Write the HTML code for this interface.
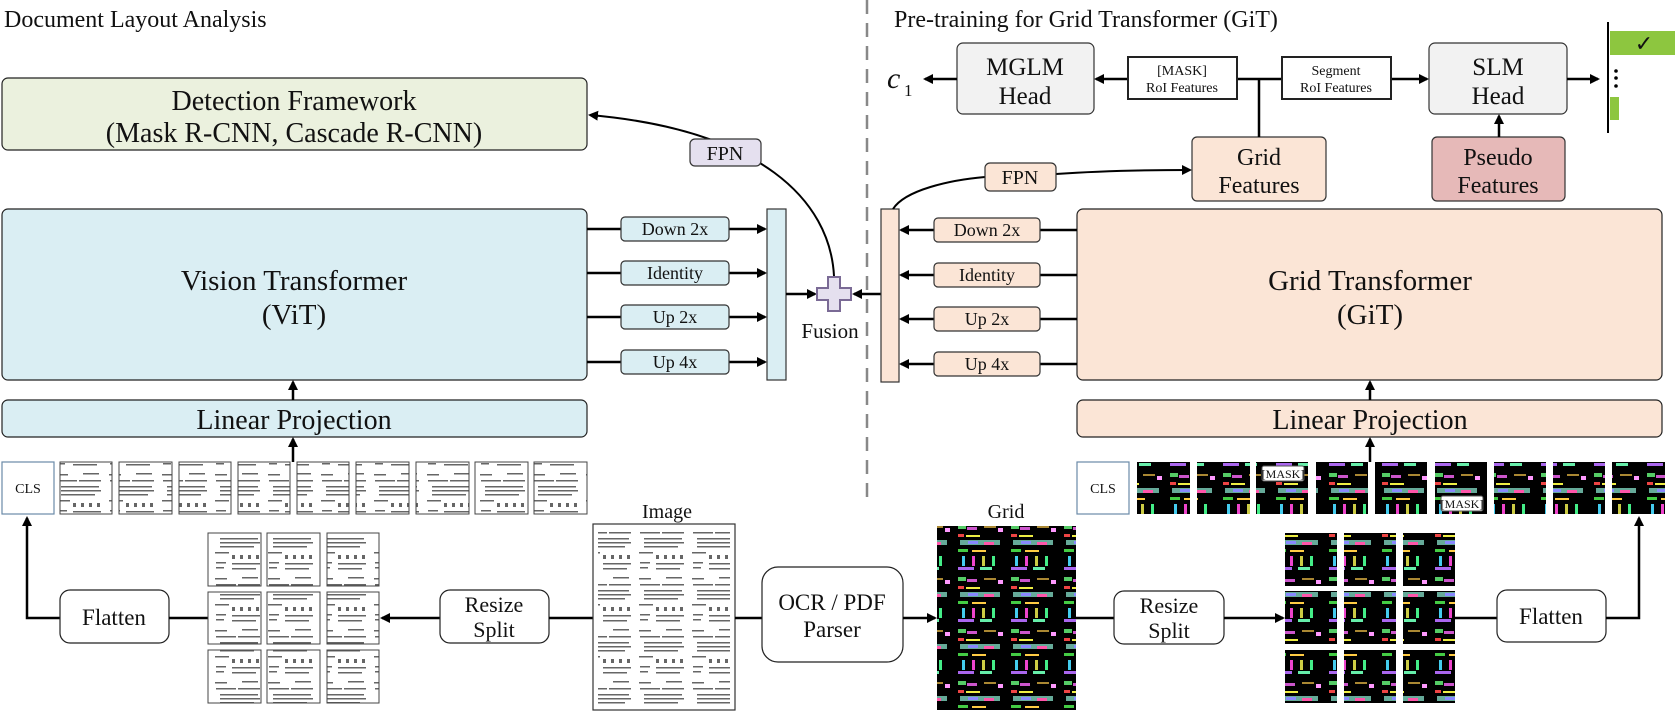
<!DOCTYPE html>
<html><head><meta charset="utf-8"><style>
html,body{margin:0;padding:0;background:#fff;}
svg{display:block;}
text{font-family:"Liberation Serif",serif;fill:#111;}
</style></head><body>
<svg width="1680" height="714" viewBox="0 0 1680 714" xmlns="http://www.w3.org/2000/svg">
<defs>
<marker id="ah" markerWidth="10" markerHeight="10" refX="8" refY="5" orient="auto" markerUnits="userSpaceOnUse">
<path d="M0,0 L10,5 L0,10 z" fill="#000"/></marker>
<pattern id="doc" width="53" height="52" patternUnits="userSpaceOnUse">
<rect width="53" height="52" fill="#fff"/>
<g fill="#666">
<rect x="3" y="6" width="12" height="1.5"/><rect x="30" y="5" width="16" height="1.5"/>
<rect x="4" y="12" width="20" height="1.5"/><rect x="26" y="12" width="22" height="1.5"/>
<rect x="8" y="18" width="38" height="1.5"/><rect x="8" y="22" width="40" height="1.5"/>
<rect x="8" y="26" width="34" height="1.5"/><rect x="3" y="32" width="14" height="1.5"/>
<rect x="20" y="35" width="3" height="4"/><rect x="28" y="35" width="3" height="4"/><rect x="36" y="35" width="3" height="4"/><rect x="44" y="35" width="3" height="4"/>
<rect x="4" y="42" width="10" height="1.5"/><rect x="20" y="43" width="28" height="1.5"/>
<rect x="4" y="47" width="8" height="1.5"/><rect x="20" y="48" width="24" height="1.5"/>
</g></pattern>
<pattern id="grd" width="53" height="52" patternUnits="userSpaceOnUse">
<rect width="53" height="52" fill="#000"/>
<rect x="4" y="5" width="8" height="4" fill="#5c6"/><rect x="13" y="7" width="10" height="3" fill="#c5c"/>
<rect x="30" y="6" width="12" height="2" fill="#a83"/><rect x="44" y="8" width="5" height="4" fill="#f9f"/>
<rect x="4" y="14" width="6" height="3" fill="#e44"/><rect x="12" y="15" width="14" height="2" fill="#ee4"/>
<rect x="6" y="20" width="40" height="5" fill="#6a9"/><rect x="14" y="21" width="10" height="3" fill="#88f"/>
<rect x="30" y="22" width="10" height="3" fill="#f5a"/>
<rect x="4" y="29" width="10" height="3" fill="#4c4"/><rect x="18" y="30" width="14" height="2" fill="#fc4"/>
<rect x="8" y="36" width="3" height="10" fill="#4ce"/><rect x="18" y="36" width="3" height="10" fill="#e4c"/><rect x="28" y="36" width="3" height="10" fill="#cc4"/><rect x="38" y="36" width="3" height="10" fill="#4e8"/>
<rect x="4" y="47" width="16" height="3" fill="#a6e"/><rect x="26" y="47" width="12" height="3" fill="#6ea"/>
</pattern>
</defs>

<line x1="867" y1="0" x2="867" y2="502" stroke="#888" stroke-width="2.5" stroke-dasharray="14,9"/>

<text x="4" y="27" font-size="24">Document Layout Analysis</text>
<text x="894" y="27" font-size="24">Pre-training for Grid Transformer (GiT)</text>

<rect x="2" y="78" width="585" height="72" rx="6" fill="#ebf1de" stroke="#222" stroke-width="1.2"/>
<text x="294" y="110" font-size="28" text-anchor="middle">Detection Framework</text>
<text x="294" y="142" font-size="28" text-anchor="middle">(Mask R-CNN, Cascade R-CNN)</text>

<path d="M834,276 C830,200 760,130 590,115" fill="none" stroke="#000" stroke-width="2" marker-end="url(#ah)"/>
<rect x="690" y="139" width="71" height="27" rx="5" fill="#e5e0ef" stroke="#333" stroke-width="1.2"/>
<text x="725" y="160" font-size="20" text-anchor="middle">FPN</text>

<rect x="2" y="209" width="585" height="171" rx="6" fill="#daeef3" stroke="#222" stroke-width="1.2"/>
<text x="294" y="290" font-size="29" text-anchor="middle">Vision Transformer</text>
<text x="294" y="324" font-size="29" text-anchor="middle">(ViT)</text>

<g stroke="#000" stroke-width="2.5" fill="none">
<line x1="587" y1="229" x2="621" y2="229"/><line x1="729" y1="229" x2="765" y2="229" marker-end="url(#ah)"/>
<line x1="587" y1="273" x2="621" y2="273"/><line x1="729" y1="273" x2="765" y2="273" marker-end="url(#ah)"/>
<line x1="587" y1="317" x2="621" y2="317"/><line x1="729" y1="317" x2="765" y2="317" marker-end="url(#ah)"/>
<line x1="587" y1="362" x2="621" y2="362"/><line x1="729" y1="362" x2="765" y2="362" marker-end="url(#ah)"/>
</g>
<g fill="#daeef3" stroke="#333" stroke-width="1.2">
<rect x="621" y="217" width="108" height="24" rx="4"/>
<rect x="621" y="261" width="108" height="24" rx="4"/>
<rect x="621" y="305" width="108" height="24" rx="4"/>
<rect x="621" y="350" width="108" height="24" rx="4"/>
</g>
<g font-size="18" text-anchor="middle">
<text x="675" y="235">Down 2x</text><text x="675" y="279">Identity</text>
<text x="675" y="323">Up 2x</text><text x="675" y="368">Up 4x</text>
</g>
<rect x="767" y="209" width="19" height="171" fill="#daeef3" stroke="#333" stroke-width="1.2"/>

<line x1="786" y1="294" x2="815" y2="294" stroke="#000" stroke-width="2.5" marker-end="url(#ah)"/>
<line x1="881" y1="294" x2="854" y2="294" stroke="#000" stroke-width="2.5" marker-end="url(#ah)"/>
<path d="M828,277 h12 v11 h11 v12 h-11 v11 h-12 v-11 h-11 v-12 h11 z" fill="#e5e0ef" stroke="#7a6a95" stroke-width="2"/>
<text x="830" y="338" font-size="21" text-anchor="middle">Fusion</text>

<rect x="2" y="400" width="585" height="37" rx="6" fill="#daeef3" stroke="#222" stroke-width="1.2"/>
<text x="294" y="429" font-size="28" text-anchor="middle">Linear Projection</text>
<line x1="293" y1="400" x2="293" y2="382" stroke="#000" stroke-width="2.5" marker-end="url(#ah)"/>
<line x1="293" y1="462" x2="293" y2="439" stroke="#000" stroke-width="2.5" marker-end="url(#ah)"/>

<rect x="2" y="462" width="52" height="52" fill="#fff" stroke="#6a8aa8" stroke-width="1.2"/>
<text x="28" y="493" font-size="14" text-anchor="middle">CLS</text>
<g fill="url(#doc)" stroke="#444" stroke-width="1">
<rect x="60" y="462" width="52" height="52"/><rect x="119" y="462" width="53" height="52"/>
<rect x="179" y="462" width="52" height="52"/><rect x="238" y="462" width="52" height="52"/>
<rect x="297" y="462" width="52" height="52"/><rect x="356" y="462" width="53" height="52"/>
<rect x="416" y="462" width="53" height="52"/><rect x="475" y="462" width="53" height="52"/>
<rect x="534" y="462" width="53" height="52"/>
</g>

<path d="M60,618 H27 V518" fill="none" stroke="#000" stroke-width="2.5" marker-end="url(#ah)"/>
<rect x="60" y="590" width="109" height="53" rx="10" fill="#fff" stroke="#222" stroke-width="1.2"/>
<text x="114" y="625" font-size="23" text-anchor="middle">Flatten</text>
<line x1="169" y1="618" x2="208" y2="618" stroke="#000" stroke-width="2.5"/>
<g fill="url(#doc)" stroke="#444" stroke-width="1">
<rect x="208" y="533" width="53" height="53"/><rect x="267" y="533" width="53" height="53"/><rect x="327" y="533" width="52" height="53"/>
<rect x="208" y="592" width="53" height="52"/><rect x="267" y="592" width="53" height="52"/><rect x="327" y="592" width="52" height="52"/>
<rect x="208" y="650" width="53" height="53"/><rect x="267" y="650" width="53" height="53"/><rect x="327" y="650" width="52" height="53"/>
</g>
<line x1="440" y1="618" x2="382" y2="618" stroke="#000" stroke-width="2.5" marker-end="url(#ah)"/>
<rect x="440" y="590" width="109" height="53" rx="10" fill="#fff" stroke="#222" stroke-width="1.2"/>
<text x="494" y="612" font-size="22" text-anchor="middle">Resize</text>
<text x="494" y="637" font-size="22" text-anchor="middle">Split</text>
<line x1="549" y1="618" x2="593" y2="618" stroke="#000" stroke-width="2.5"/>
<text x="667" y="518" font-size="20" text-anchor="middle">Image</text>
<rect x="593" y="524" width="142" height="186" fill="#fff" stroke="#333" stroke-width="1.2"/>
<rect x="598" y="530" width="132" height="175" fill="url(#doc)"/>
<line x1="735" y1="618" x2="762" y2="618" stroke="#000" stroke-width="2.5"/>
<rect x="762" y="567" width="141" height="95" rx="16" fill="#fff" stroke="#222" stroke-width="1.2"/>
<text x="832" y="610" font-size="23" text-anchor="middle">OCR / PDF</text>
<text x="832" y="637" font-size="23" text-anchor="middle">Parser</text>
<line x1="903" y1="618" x2="935" y2="618" stroke="#000" stroke-width="2.5" marker-end="url(#ah)"/>
<text x="1006" y="518" font-size="20" text-anchor="middle">Grid</text>
<rect x="937" y="526" width="139" height="184" fill="url(#grd)"/>
<line x1="1076" y1="618" x2="1114" y2="618" stroke="#000" stroke-width="2.5"/>
<rect x="1114" y="591" width="110" height="53" rx="10" fill="#fff" stroke="#222" stroke-width="1.2"/>
<text x="1169" y="613" font-size="22" text-anchor="middle">Resize</text>
<text x="1169" y="638" font-size="22" text-anchor="middle">Split</text>
<line x1="1224" y1="618" x2="1283" y2="618" stroke="#000" stroke-width="2.5" marker-end="url(#ah)"/>
<g fill="url(#grd)">
<rect x="1285" y="533" width="52" height="53"/><rect x="1344" y="533" width="52" height="53"/><rect x="1403" y="533" width="52" height="53"/>
<rect x="1285" y="591" width="52" height="53"/><rect x="1344" y="591" width="52" height="53"/><rect x="1403" y="591" width="52" height="53"/>
<rect x="1285" y="650" width="52" height="53"/><rect x="1344" y="650" width="52" height="53"/><rect x="1403" y="650" width="52" height="53"/>
</g>
<line x1="1455" y1="618" x2="1497" y2="618" stroke="#000" stroke-width="2.5"/>
<rect x="1497" y="590" width="109" height="52" rx="10" fill="#fff" stroke="#222" stroke-width="1.2"/>
<text x="1551" y="624" font-size="23" text-anchor="middle">Flatten</text>
<path d="M1606,618 H1639 V518" fill="none" stroke="#000" stroke-width="2.5" marker-end="url(#ah)"/>

<rect x="1077" y="462" width="52" height="52" fill="#fff" stroke="#6a8aa8" stroke-width="1.2"/>
<text x="1103" y="493" font-size="14" text-anchor="middle">CLS</text>
<g fill="url(#grd)">
<rect x="1137" y="462" width="53" height="52"/><rect x="1197" y="462" width="53" height="52"/>
<rect x="1256" y="462" width="52" height="52"/><rect x="1316" y="462" width="52" height="52"/>
<rect x="1375" y="462" width="52" height="52"/><rect x="1435" y="462" width="52" height="52"/>
<rect x="1494" y="462" width="52" height="52"/><rect x="1553" y="462" width="52" height="52"/>
<rect x="1612" y="462" width="53" height="52"/>
</g>
<rect x="1262" y="466" width="42" height="15" rx="2" fill="#fff" stroke="#555"/>
<text x="1283" y="478" font-size="12" text-anchor="middle">[MASK]</text>
<rect x="1441" y="496" width="42" height="15" rx="2" fill="#fff" stroke="#555"/>
<text x="1462" y="508" font-size="12" text-anchor="middle">[MASK]</text>

<rect x="1077" y="400" width="585" height="37" rx="6" fill="#fbe5d6" stroke="#222" stroke-width="1.2"/>
<text x="1370" y="429" font-size="28" text-anchor="middle">Linear Projection</text>
<line x1="1370" y1="462" x2="1370" y2="439" stroke="#000" stroke-width="2.5" marker-end="url(#ah)"/>
<line x1="1370" y1="400" x2="1370" y2="382" stroke="#000" stroke-width="2.5" marker-end="url(#ah)"/>

<rect x="1077" y="209" width="585" height="171" rx="6" fill="#fbe5d6" stroke="#222" stroke-width="1.2"/>
<text x="1370" y="290" font-size="29" text-anchor="middle">Grid Transformer</text>
<text x="1370" y="324" font-size="29" text-anchor="middle">(GiT)</text>

<g stroke="#000" stroke-width="2.5" fill="none">
<line x1="1077" y1="230" x2="1040" y2="230"/><line x1="934" y1="230" x2="901" y2="230" marker-end="url(#ah)"/>
<line x1="1077" y1="275" x2="1040" y2="275"/><line x1="934" y1="275" x2="901" y2="275" marker-end="url(#ah)"/>
<line x1="1077" y1="319" x2="1040" y2="319"/><line x1="934" y1="319" x2="901" y2="319" marker-end="url(#ah)"/>
<line x1="1077" y1="364" x2="1040" y2="364"/><line x1="934" y1="364" x2="901" y2="364" marker-end="url(#ah)"/>
</g>
<g fill="#fbe5d6" stroke="#333" stroke-width="1.2">
<rect x="934" y="218" width="106" height="24" rx="4"/>
<rect x="934" y="263" width="106" height="24" rx="4"/>
<rect x="934" y="307" width="106" height="24" rx="4"/>
<rect x="934" y="352" width="106" height="24" rx="4"/>
</g>
<g font-size="18" text-anchor="middle">
<text x="987" y="236">Down 2x</text><text x="987" y="281">Identity</text>
<text x="987" y="325">Up 2x</text><text x="987" y="370">Up 4x</text>
</g>
<rect x="881" y="209" width="18" height="173" fill="#fbe5d6" stroke="#333" stroke-width="1.2"/>

<path d="M893,209 C905,190 950,180 985,177" fill="none" stroke="#000" stroke-width="2"/>
<path d="M1056,174 C1100,171 1150,170 1190,170" fill="none" stroke="#000" stroke-width="2" marker-end="url(#ah)"/>
<rect x="985" y="163" width="71" height="28" rx="5" fill="#fbe5d6" stroke="#333" stroke-width="1.2"/>
<text x="1020" y="184" font-size="20" text-anchor="middle">FPN</text>

<rect x="1192" y="137" width="134" height="64" rx="5" fill="#fbe5d6" stroke="#333" stroke-width="1.2"/>
<text x="1259" y="165" font-size="24" text-anchor="middle">Grid</text>
<text x="1259" y="193" font-size="24" text-anchor="middle">Features</text>
<rect x="1432" y="137" width="133" height="64" rx="5" fill="#e6b9b8" stroke="#333" stroke-width="1.2"/>
<text x="1498" y="165" font-size="24" text-anchor="middle">Pseudo</text>
<text x="1498" y="193" font-size="24" text-anchor="middle">Features</text>
<line x1="1499" y1="137" x2="1499" y2="116" stroke="#000" stroke-width="2.5" marker-end="url(#ah)"/>

<rect x="957" y="43" width="137" height="71" rx="6" fill="#f2f2f2" stroke="#333" stroke-width="1.2"/>
<text x="1025" y="75" font-size="25" text-anchor="middle">MGLM</text>
<text x="1025" y="104" font-size="25" text-anchor="middle">Head</text>
<rect x="1429" y="43" width="138" height="71" rx="6" fill="#f2f2f2" stroke="#333" stroke-width="1.2"/>
<text x="1498" y="75" font-size="25" text-anchor="middle">SLM</text>
<text x="1498" y="104" font-size="25" text-anchor="middle">Head</text>
<text x="887" y="88" font-size="30" font-style="italic" font-family="DejaVu Serif, serif">c</text>
<text x="904" y="96" font-size="17" font-family="DejaVu Sans, sans-serif">1</text>
<line x1="957" y1="79" x2="925" y2="79" stroke="#000" stroke-width="2.5" marker-end="url(#ah)"/>
<line x1="1128" y1="79" x2="1096" y2="79" stroke="#000" stroke-width="2.5" marker-end="url(#ah)"/>
<line x1="1237" y1="79" x2="1282" y2="79" stroke="#000" stroke-width="2.5"/>
<line x1="1259" y1="79" x2="1259" y2="137" stroke="#000" stroke-width="2.5"/>
<line x1="1391" y1="79" x2="1427" y2="79" stroke="#000" stroke-width="2.5" marker-end="url(#ah)"/>
<line x1="1567" y1="79" x2="1598" y2="79" stroke="#000" stroke-width="2.5" marker-end="url(#ah)"/>
<rect x="1128" y="57" width="109" height="42" fill="#fff" stroke="#222" stroke-width="2"/>
<text x="1182" y="75" font-size="14" text-anchor="middle">[MASK]</text>
<text x="1182" y="92" font-size="14" text-anchor="middle">RoI Features</text>
<rect x="1282" y="57" width="109" height="42" fill="#fff" stroke="#222" stroke-width="2"/>
<text x="1336" y="75" font-size="14" text-anchor="middle">Segment</text>
<text x="1336" y="92" font-size="14" text-anchor="middle">RoI Features</text>

<line x1="1608" y1="22" x2="1608" y2="133" stroke="#000" stroke-width="2"/>
<rect x="1610" y="31" width="65" height="24" fill="#8dc63f"/>
<text x="1644" y="51" font-size="22" text-anchor="middle" fill="#333" font-family="DejaVu Sans, sans-serif">✓</text>
<circle cx="1616" cy="71" r="1.8" fill="#000"/><circle cx="1616" cy="78" r="1.8" fill="#000"/><circle cx="1616" cy="86" r="1.8" fill="#000"/>
<rect x="1610" y="97" width="9" height="23" fill="#8dc63f"/>
</svg>
</body></html>
